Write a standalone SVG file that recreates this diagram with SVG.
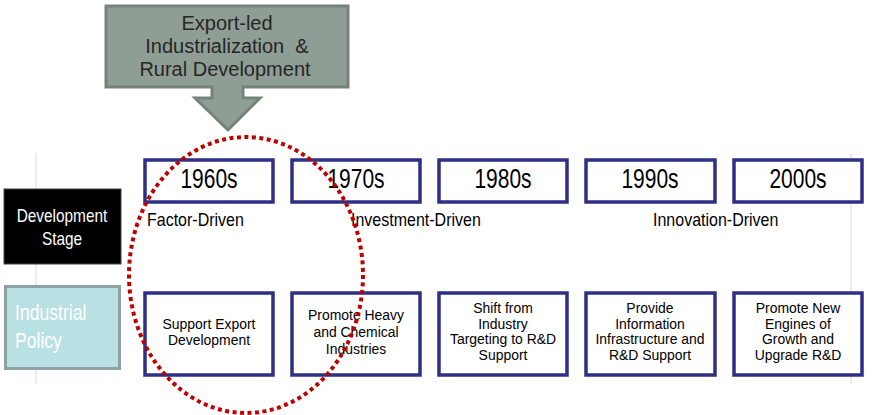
<svg xmlns="http://www.w3.org/2000/svg" width="888" height="415" viewBox="0 0 888 415">
<style>
  text { font-family: "Liberation Sans", Arial, sans-serif; }
  .yr { fill: #fff; stroke: #2e2f86; stroke-width: 3.5; }
  .pol { fill: #fff; stroke: #2e2f86; stroke-width: 3.5; }
  .yt { font-size: 28px; fill: #000; text-anchor: middle; }
  .pt { font-size: 15px; fill: #000; text-anchor: middle; }
  .st { font-size: 18px; fill: #000; }
  .ct { font-size: 20px; fill: #262626; text-anchor: middle; }
  .guide { stroke: #ececec; stroke-width: 2; fill: none; }
</style>
<rect width="888" height="415" fill="#fff"/>
<g id="guides">
  <line class="guide" x1="36" y1="153" x2="36" y2="384"/>
  <line class="guide" x1="851" y1="153" x2="851" y2="384"/>
</g>
<g id="callout">
  <path d="M106,6 H348 V87 H243 V98 H260 L228,130 L195,98 H212 V87 H106 Z" fill="#8f9e95" stroke="#74837a" stroke-width="3" stroke-linejoin="miter"/>
  <text class="ct" x="227" y="30">Export-led</text>
  <text class="ct" x="227" y="53">Industrialization &#160;&amp;</text>
  <text class="ct" x="225" y="76">Rural Development</text>
</g>
<g id="dev-stage">
  <rect x="4" y="189" width="117" height="75" fill="#000" stroke="#444" stroke-width="1"/>
  <text font-size="17.5" fill="#fff" text-anchor="middle" transform="translate(62,222) scale(0.88,1)">Development</text>
  <text font-size="17.5" fill="#fff" text-anchor="middle" transform="translate(62,245) scale(0.88,1)">Stage</text>
</g>
<g id="industrial-policy">
  <rect x="5.5" y="286.5" width="114" height="82" fill="#b9e1e4" stroke="#8ea2a3" stroke-width="3"/>
  <text font-size="22" fill="#fff" transform="translate(15,320) scale(0.8,1)">Industrial</text>
  <text font-size="22" fill="#fff" transform="translate(15,348) scale(0.8,1)">Policy</text>
</g>
<g id="y1960">
  <rect class="yr" x="145" y="160" width="128" height="42"/>
  <text class="yt" transform="translate(209,188) scale(0.75,1)">1960s</text>
</g>
<g id="y1970">
  <rect class="yr" x="292" y="160" width="128" height="42"/>
  <text class="yt" transform="translate(356,188) scale(0.75,1)">1970s</text>
</g>
<g id="y1980">
  <rect class="yr" x="439" y="160" width="128" height="42"/>
  <text class="yt" transform="translate(503,188) scale(0.75,1)">1980s</text>
</g>
<g id="y1990">
  <rect class="yr" x="586" y="160" width="129" height="42"/>
  <text class="yt" transform="translate(650,188) scale(0.75,1)">1990s</text>
</g>
<g id="y2000">
  <rect class="yr" x="734" y="160" width="128" height="42"/>
  <text class="yt" transform="translate(798,188) scale(0.75,1)">2000s</text>
</g>
<g id="stages">
  <text class="st" transform="translate(147,226) scale(0.89,1)">Factor-Driven</text>
  <text class="st" transform="translate(351,226) scale(0.89,1)">Investment-Driven</text>
  <text class="st" transform="translate(653,226) scale(0.89,1)">Innovation-Driven</text>
</g>
<g id="p1960">
  <rect class="pol" x="145" y="293" width="128" height="82"/>
  <text class="pt" transform="translate(209,329) scale(0.93,1)">Support Export</text>
  <text class="pt" transform="translate(209,345) scale(0.93,1)">Development</text>
</g>
<g id="p1970">
  <rect class="pol" x="292" y="293" width="128" height="82"/>
  <text class="pt" transform="translate(356,320) scale(0.93,1)">Promote Heavy</text>
  <text class="pt" transform="translate(356,337) scale(0.93,1)">and Chemical</text>
  <text class="pt" transform="translate(356,354) scale(0.93,1)">Industries</text>
</g>
<g id="p1980">
  <rect class="pol" x="439" y="293" width="128" height="82"/>
  <text class="pt" transform="translate(503,313) scale(0.93,1)">Shift from</text>
  <text class="pt" transform="translate(503,328.5) scale(0.93,1)">Industry</text>
  <text class="pt" transform="translate(503,344) scale(0.93,1)">Targeting to R&amp;D</text>
  <text class="pt" transform="translate(503,359.5) scale(0.93,1)">Support</text>
</g>
<g id="p1990">
  <rect class="pol" x="586" y="293" width="129" height="82"/>
  <text class="pt" transform="translate(650,313) scale(0.93,1)">Provide</text>
  <text class="pt" transform="translate(650,328.5) scale(0.93,1)">Information</text>
  <text class="pt" transform="translate(650,344) scale(0.93,1)">Infrastructure and</text>
  <text class="pt" transform="translate(650,359.5) scale(0.93,1)">R&amp;D Support</text>
</g>
<g id="p2000">
  <rect class="pol" x="734" y="293" width="128" height="82"/>
  <text class="pt" transform="translate(798,313) scale(0.93,1)">Promote New</text>
  <text class="pt" transform="translate(798,328.5) scale(0.93,1)">Engines of</text>
  <text class="pt" transform="translate(798,344) scale(0.93,1)">Growth and</text>
  <text class="pt" transform="translate(798,359.5) scale(0.93,1)">Upgrade R&amp;D</text>
</g>
<g id="connectors">
  <ellipse cx="246" cy="275" rx="117" ry="138" fill="none" stroke="#c00000" stroke-width="4" stroke-dasharray="4 3.5"/>
</g>
</svg>
